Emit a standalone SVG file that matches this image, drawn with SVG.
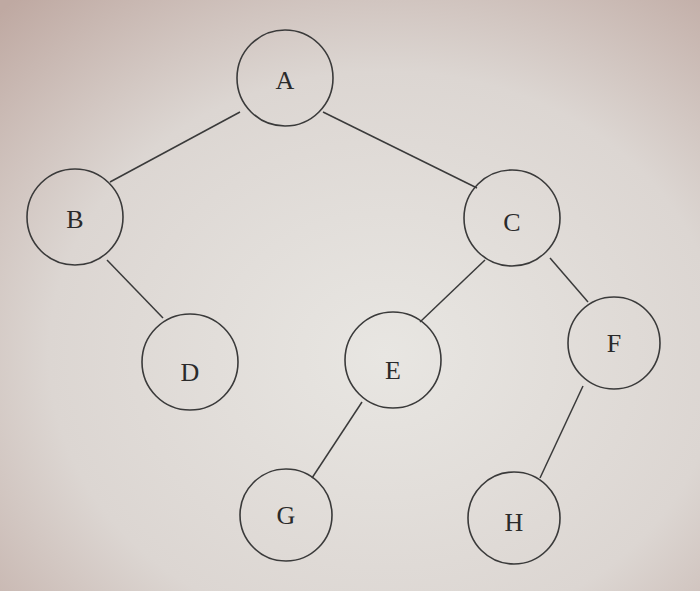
<svg xmlns="http://www.w3.org/2000/svg" width="700" height="591" viewBox="0 0 700 591">
<defs>
<radialGradient id="bg" cx="0.55" cy="0.6" r="0.8">
<stop offset="0" stop-color="#e8e6e2"/>
<stop offset="0.6" stop-color="#dcd6d2"/>
<stop offset="1" stop-color="#bfa9a2"/>
</radialGradient>
<style>
.n{fill:none;stroke:#3a3a3a;stroke-width:1.6}
.e{stroke:#3a3a3a;stroke-width:1.5}
text{font-family:"Liberation Serif",serif;font-size:26px;fill:#2a2a2a;text-anchor:middle;dominant-baseline:central}
</style>
</defs>
<rect width="700" height="591" fill="url(#bg)"/>
<g id="connectors">
<line class="e" x1="240" y1="112" x2="110" y2="182"/>
<line class="e" x1="323" y1="112" x2="477" y2="188"/>
<line class="e" x1="107" y1="260" x2="163" y2="318"/>
<line class="e" x1="485" y1="260" x2="420" y2="322"/>
<line class="e" x1="550" y1="258" x2="588" y2="302"/>
<line class="e" x1="362" y1="402" x2="312" y2="478"/>
<line class="e" x1="583" y1="386" x2="540" y2="478"/>
</g>
<g id="A"><circle class="n" cx="285" cy="78" r="48"/><text x="285" y="80">A</text></g>
<g id="B"><circle class="n" cx="75" cy="217" r="48"/><text x="75" y="219">B</text></g>
<g id="C"><circle class="n" cx="512" cy="218" r="48"/><text x="512" y="222">C</text></g>
<g id="D"><circle class="n" cx="190" cy="362" r="48"/><text x="190" y="372">D</text></g>
<g id="E"><circle class="n" cx="393" cy="360" r="48"/><text x="393" y="370">E</text></g>
<g id="F"><circle class="n" cx="614" cy="343" r="46"/><text x="614" y="343">F</text></g>
<g id="G"><circle class="n" cx="286" cy="515" r="46"/><text x="286" y="515">G</text></g>
<g id="H"><circle class="n" cx="514" cy="518" r="46"/><text x="514" y="522">H</text></g>
</svg>
